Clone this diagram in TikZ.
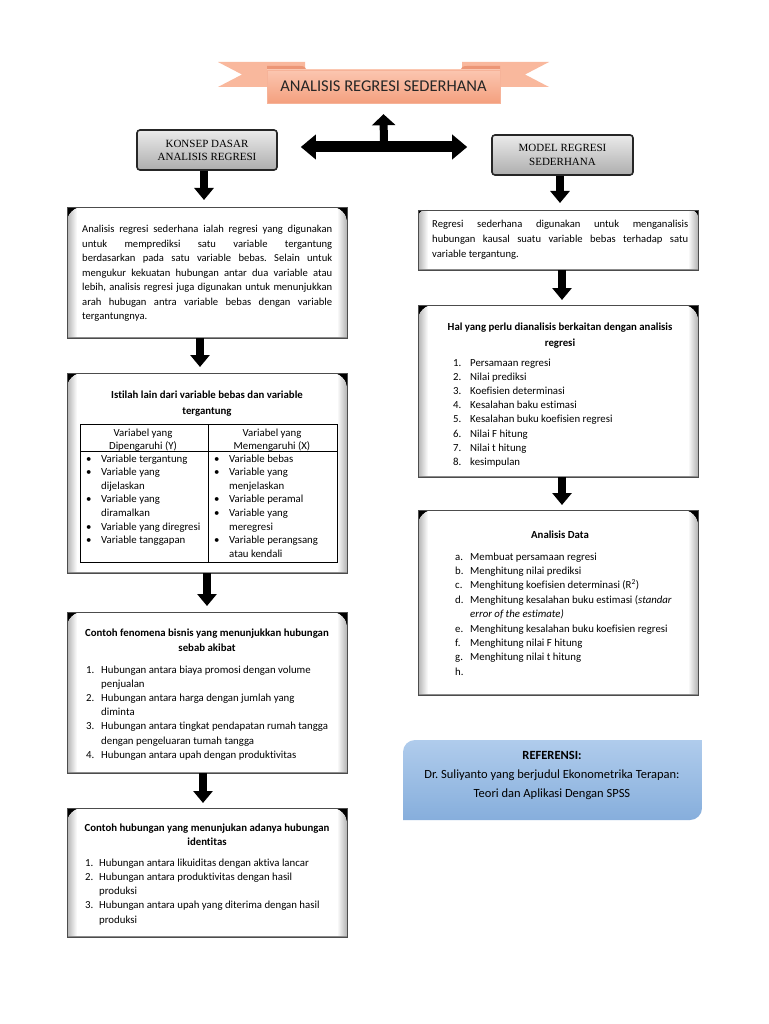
\documentclass[tikz,border=0pt]{standalone}
\usepackage{fontspec}
\setmainfont{Carlito}[Ligatures=NoCommon]
\newfontfamily\boxserif{Liberation Serif}
\usetikzlibrary{arrows.meta}
\frenchspacing
\definecolor{ribbonA}{HTML}{FBC6B0}
\definecolor{ribbonB}{HTML}{F4A07F}
\definecolor{ribbonTail}{HTML}{F9B89D}
\definecolor{ribbonFold}{HTML}{EC9676}
\definecolor{refA}{HTML}{B0CCEC}
\definecolor{refB}{HTML}{86AEDC}
\tikzset{
  wbox/.style={draw=black!70, line width=0.8pt, fill=black, inner sep=0pt, outer sep=0pt,
    path picture={
      \begin{scope}
        \clip (path picture bounding box.south west)
          -- ([yshift=-#1]path picture bounding box.north west)
          arc[start angle=180,end angle=90,radius=#1]
          -- ([xshift=-#1]path picture bounding box.north east)
          arc[start angle=90,end angle=0,radius=#1]
          -- (path picture bounding box.south east) -- cycle;
        \fill[white] (path picture bounding box.south west) rectangle (path picture bounding box.north east);
        \shade[left color=black!30, right color=white] (path picture bounding box.south west) rectangle ([xshift=10pt]path picture bounding box.north west);
        \shade[left color=white, right color=black!30] ([xshift=-10pt]path picture bounding box.south east) rectangle (path picture bounding box.north east);
      \end{scope}
      \draw[black!45, line width=3pt] (path picture bounding box.south west) -- (path picture bounding box.south east);
    }},
  wbox/.default=16pt,
  gbox/.style={draw=black!85, line width=1.6pt, rounded corners=3pt, top color=white!92!black, bottom color=black!32,
    inner sep=0pt, minimum width=140pt, minimum height=40pt},
  refbox/.style={draw=none, inner sep=0pt,
    path picture={
      \shade[top color=refA, bottom color=refB] (path picture bounding box.south west)
        -- ([yshift=-12pt]path picture bounding box.north west)
        arc[start angle=180,end angle=90,radius=12pt]
        -- (path picture bounding box.north east)
        -- ([yshift=12pt]path picture bounding box.south east)
        arc[start angle=0,end angle=-90,radius=12pt]
        -- cycle;
    }},
  txt/.style={inner sep=0pt, anchor=base west},
  ctxt/.style={inner sep=0pt, anchor=base},
  blk/.style={line width=8pt, -{Triangle[width=19pt,length=12pt]}},
  dblk/.style={line width=11pt, {Triangle[width=24pt,length=15pt]}-{Triangle[width=24pt,length=15pt]}},
  upblk/.style={line width=8pt, -{Triangle[width=23pt,length=11pt]}},
}
\begin{document}
\begin{tikzpicture}[x=1pt,y=-1pt]
\useasboundingbox[fill=white] (0,0) rectangle (768,1024);

% ribbon tails
\fill[ribbonTail] (218,62) -- (305,62) -- (305,87) -- (218,87) -- (242,74.5) -- cycle;
\fill[ribbonTail] (549,62) -- (462,62) -- (462,87) -- (549,87) -- (525,74.5) -- cycle;
\fill[ribbonFold] (267,66) -- (300,66) .. controls (308,66) and (308,72) .. (300,72) -- (267,72) -- cycle;
\fill[ribbonFold] (500,66) -- (467,66) .. controls (459,66) and (459,72) .. (467,72) -- (500,72) -- cycle;
\node[draw=ribbonB!80!white, line width=0.4pt, top color=ribbonA, bottom color=ribbonB, minimum width=233pt, minimum height=33pt, inner sep=0pt,
  font=\fontsize{16.5}{16.5}\selectfont, text=black!85] (title) at (383.5,86.5) {ANALISIS REGRESI SEDERHANA};

% top boxes
\node[gbox] (konsep) at (207,150) {};
\node[ctxt, font=\boxserif\fontsize{11}{13.5}\selectfont] (konsept) at (207,147.5) {\begin{tabular}[t]{@{}c@{}}KONSEP DASAR\\ANALISIS REGRESI\end{tabular}};
\node[gbox, minimum width=141pt] (model) at (562.5,155) {};
\node[ctxt, font=\boxserif\fontsize{11}{14}\selectfont] (modelt) at (562.5,152) {\begin{tabular}[t]{@{}c@{}}MODEL REGRESI\\SEDERHANA\end{tabular}};

% hub arrows
\coordinate (hub) at (384,147);
\draw[dblk] ([xshift=23pt]konsep.east |- hub) -- ([xshift=-24pt]model.west |- hub);
\draw[upblk] (hub) -- ([yshift=-11pt]title.south);

% left column boxes
\node[wbox, minimum width=280pt, minimum height=131pt] (b1) at (207,272.5) {};
\node[txt, font=\fontsize{10.6}{14.5}\selectfont] (b1t) at (82,233) {\parbox[t]{250pt}{Analisis regresi sederhana ialah regresi yang digunakan\linebreak
untuk memprediksi satu variable tergantung\linebreak
berdasarkan pada satu variable bebas. Selain untuk\linebreak
mengukur kekuatan hubungan antar dua variable atau\linebreak
lebih, analisis regresi juga digunakan untuk menunjukkan\linebreak
arah hubugan antra variable bebas dengan variable\linebreak
tergantungnya.}};

\node[wbox, minimum width=280pt, minimum height=200pt] (b2) at (207,473) {};
\node[ctxt, font=\bfseries\fontsize{10.8}{16}\selectfont] (b2t) at (207,398) {\begin{tabular}[t]{@{}c@{}}Istilah lain dari variable bebas dan variable\\tergantung\end{tabular}};
\node[draw=black, line width=0.9pt, minimum width=257pt, minimum height=138pt, inner sep=0pt] (tbl) at (208.5,493) {};
\draw[black, line width=0.9pt] (208,424) -- (208,562);
\draw[black, line width=0.9pt] (80,451) -- (337,451);
\node[ctxt, font=\fontsize{10.8}{13}\selectfont] (h1) at (143,436) {\begin{tabular}[t]{@{}c@{}}Variabel yang\\Dipengaruhi (Y)\end{tabular}};
\node[ctxt, font=\fontsize{10.8}{13}\selectfont] (h2) at (272,436) {\begin{tabular}[t]{@{}c@{}}Variabel yang\\Memengaruhi (X)\end{tabular}};
\node[txt, font=\fontsize{10.8}{13.6}\selectfont] (l1) at (86,462) {\begin{tabular}[t]{@{}p{15pt}@{}l@{}}
\textbullet & Variable tergantung\\
\textbullet & Variable yang\\
 & dijelaskan\\
\textbullet & Variable yang\\
 & diramalkan\\
\textbullet & Variable yang diregresi\\
\textbullet & Variable tanggapan
\end{tabular}};
\node[txt, font=\fontsize{10.8}{13.6}\selectfont] (l2) at (214,462) {\begin{tabular}[t]{@{}p{15pt}@{}l@{}}
\textbullet & Variable bebas\\
\textbullet & Variable yang\\
 & menjelaskan\\
\textbullet & Variable peramal\\
\textbullet & Variable yang\\
 & meregresi\\
\textbullet & Variable perangsang\\
 & atau kendali
\end{tabular}};

\node[wbox, minimum width=280pt, minimum height=161pt] (b3) at (207,692.5) {};
\node[ctxt, font=\bfseries\fontsize{10.8}{15}\selectfont] (b3t) at (207,636) {\begin{tabular}[t]{@{}c@{}}Contoh fenomena bisnis yang menunjukkan hubungan\\sebab akibat\end{tabular}};
\node[txt, font=\fontsize{10.8}{14.2}\selectfont] (b3l) at (86,673) {\begin{tabular}[t]{@{}p{15pt}@{}l@{}}
1. & Hubungan antara biaya promosi dengan volume\\
 & penjualan\\
2. & Hubungan antara harga dengan jumlah yang\\
 & diminta\\
3. & Hubungan antara tingkat pendapatan rumah tangga\\
 & dengan pengeluaran tumah tangga\\
4. & Hubungan antara upah dengan produktivitas
\end{tabular}};

\node[wbox, minimum width=280pt, minimum height=129pt] (b4) at (207,872.5) {};
\node[ctxt, font=\bfseries\fontsize{10.8}{14.5}\selectfont] (b4t) at (207,831) {\begin{tabular}[t]{@{}c@{}}Contoh hubungan yang menunjukan adanya hubungan\\identitas\end{tabular}};
\node[txt, font=\fontsize{10.8}{14.3}\selectfont] (b4l) at (85,866) {\begin{tabular}[t]{@{}p{14pt}@{}l@{}}
1. & Hubungan antara likuiditas dengan aktiva lancar\\
2. & Hubungan antara produktivitas dengan hasil\\
 & produksi\\
3. & Hubungan antara upah yang diterima dengan hasil\\
 & produksi
\end{tabular}};

% right column boxes
\node[wbox=8pt, minimum width=280pt, minimum height=60pt] (r1) at (558,240) {};
\node[txt, font=\fontsize{10.6}{15}\selectfont] (r1t) at (432,228) {\parbox[t]{256pt}{Regresi sederhana digunakan untuk menganalisis\linebreak
hubungan kausal suatu variable bebas terhadap satu\linebreak
variable tergantung.}};

\node[wbox, minimum width=280pt, minimum height=172pt] (r2) at (558,391) {};
\node[ctxt, font=\bfseries\fontsize{10.8}{16}\selectfont] (r2t) at (560,330) {\begin{tabular}[t]{@{}c@{}}Hal yang perlu dianalisis berkaitan dengan analisis\\regresi\end{tabular}};
\node[txt, font=\fontsize{10.8}{14.2}\selectfont] (r2l) at (453,366) {\begin{tabular}[t]{@{}p{17pt}@{}l@{}}
1. & Persamaan regresi\\
2. & Nilai prediksi\\
3. & Koefisien determinasi\\
4. & Kesalahan baku estimasi\\
5. & Kesalahan buku koefisien regresi\\
6. & Nilai F hitung\\
7. & Nilai t hitung\\
8. & kesimpulan
\end{tabular}};

\node[wbox, minimum width=280pt, minimum height=185pt] (r3) at (558,602.5) {};
\node[ctxt, font=\bfseries\fontsize{10.8}{14}\selectfont] (r3t) at (560,538) {Analisis Data};
\node[txt, font=\fontsize{10.8}{14.4}\selectfont] (r3l) at (455,560) {\begin{tabular}[t]{@{}p{15pt}@{}l@{}}
a. & Membuat persamaan regresi\\
b. & Menghitung nilai prediksi\\
c. & Menghitung koefisien determinasi (R\textsuperscript{2})\\
d. & Menghitung kesalahan buku estimasi (\textit{standar}\\
 & \textit{error of the estimate)}\\
e. & Menghitung kesalahan buku koefisien regresi\\
f. & Menghitung nilai F hitung\\
g. & Menghitung nilai t hitung\\
h. &
\end{tabular}};

% reference box
\node[refbox, minimum width=299pt, minimum height=80pt] (ref) at (552.5,780) {};
\node[ctxt, font=\bfseries\fontsize{12.5}{14}\selectfont] (reft) at (552,759) {REFERENSI:};
\node[ctxt, font=\fontsize{12.5}{19.5}\selectfont] (refb) at (552,778) {\begin{tabular}[t]{@{}c@{}}Dr. Suliyanto yang berjudul Ekonometrika Terapan:\\Teori dan Aplikasi Dengan SPSS\end{tabular}};

% connectors
\draw[blk] ([xshift=-3pt]konsep.south) -- ([xshift=-3pt,yshift=7pt]b1.north);
\draw[blk] ([xshift=-7pt]b1.south) -- ([xshift=-7pt,yshift=6pt]b2.north);
\draw[blk] (b2.south) -- ([yshift=6pt]b3.north);
\draw[blk] ([xshift=-4pt]b3.south) -- ([xshift=-4pt,yshift=5pt]b4.north);
\draw[blk] ([xshift=-2.5pt]model.south) -- ([xshift=2pt,yshift=7pt]r1.north);
\draw[blk] ([xshift=4pt]r1.south) -- ([xshift=4pt,yshift=5pt]r2.north);
\draw[blk] ([xshift=4pt]r2.south) -- ([xshift=4pt,yshift=5pt]r3.north);
\end{tikzpicture}
\end{document}
